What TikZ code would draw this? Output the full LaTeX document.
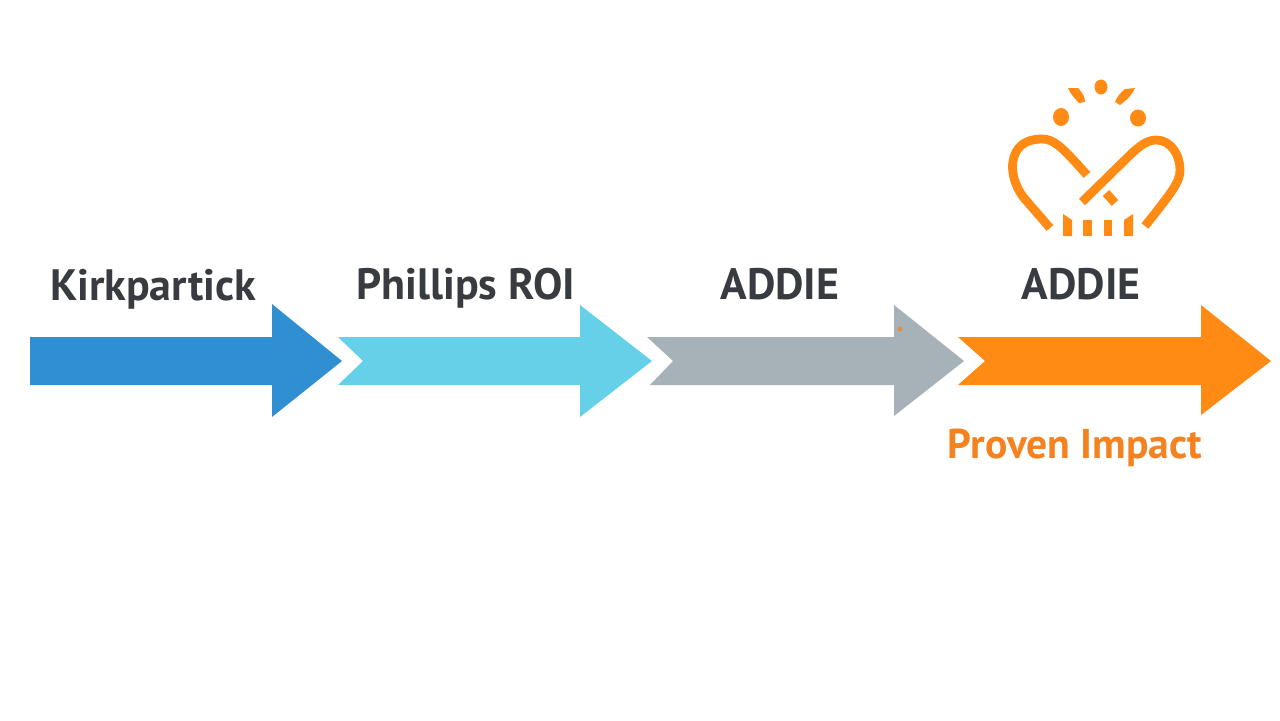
\documentclass[tikz,border=0pt]{standalone}
\usepackage{fontspec}
\setmainfont{PT Sans}
\usetikzlibrary{positioning, calc}
\definecolor{blueA}{HTML}{2F8FD0}
\definecolor{cyanA}{HTML}{66D0E8}
\definecolor{greyA}{HTML}{A6B2B8}
\definecolor{orangeA}{HTML}{FF8A14}
\definecolor{orangeB}{HTML}{F58220}
\definecolor{darkA}{HTML}{383C40}
\tikzset{
    steplabel/.style = {font=\fontsize{25}{25}\bfseries\selectfont, text=darkA, inner sep=0pt, anchor=base},
    iconline/.style = {orangeA, line width=5pt, line join=round},
    iconbar/.style = {fill=orangeA, draw=none}
}
\begin{document}
\begin{tikzpicture}[x=0.02cm,y=-0.02cm]
    \useasboundingbox (0,0) rectangle (1280,720);
    % arrows
    \fill[blueA] (30,337) -- (272,337) -- (272,304) -- (342,361) -- (272,417) -- (272,385) -- (30,385) -- cycle;
    \fill[cyanA] (338,337) -- (580,337) -- (580,305) -- (652,361) -- (580,417) -- (580,385) -- (338,385) -- (363,361) -- cycle;
    \fill[greyA] (647,337) -- (894,337) -- (894,305) -- (964,361) -- (894,416) -- (894,385) -- (650,385) -- (673,361) -- cycle;
    \fill[orangeA] (958,337) -- (1201,337) -- (1201,305) -- (1271,361) -- (1201,415) -- (1201,385) -- (958,385) -- (985,361) -- cycle;
    \fill[orangeB!70!greyA] (900,329) circle (2.5);
    % labels
    \node[steplabel] (kirk) at (153,300) {Kirkpartick};
    \node[steplabel] (roi) at (466,299) {Phillips ROI};
    \node[steplabel] (addieA) at (780,299) {ADDIE};
    \node[steplabel] (addieB) at (1081,299) {ADDIE};
    \node[steplabel, text=orangeB, font=\fontsize{23.7}{24}\bfseries\selectfont] (impact) at (1075,458) {Proven Impact};
    % icon
    \draw[iconline] (1050,228) -- (1024,198) .. controls (1013,184) and (1009,165) .. (1016,152) .. controls (1021,143) and (1030,139) .. (1042,139) .. controls (1054,139) and (1062,147) .. (1087,175);
    \draw[iconline] (1082,202) -- (1128,157) .. controls (1140,145) and (1148,140) .. (1156,140) .. controls (1171,140) and (1180,155) .. (1180,170) .. controls (1180,182) and (1172,192) .. (1145,226);
    \draw[iconline] (1106,193) -- (1115,203);
    \fill[iconbar] (1063,214) -- (1072,220) -- (1072,236) -- (1063,236) -- cycle;
    \fill[iconbar] (1083,220) rectangle (1092,236);
    \fill[iconbar] (1104,220) rectangle (1112,236);
    \fill[iconbar] (1124,220) -- (1133,214) -- (1133,236) -- (1124,236) -- cycle;
    \fill[orangeA] (1061,117) ellipse (8 and 9);
    \fill[orangeA] (1138,118) ellipse (8 and 8.5);
    \fill[orangeA] (1101,87) ellipse (6.5 and 7.5);
    \fill[orangeA] (1068,88) -- (1078,88) .. controls (1082,92) and (1085,97) .. (1085,102) -- (1079,103) .. controls (1074,98) and (1070,93) .. (1068,88) -- cycle;
    \fill[orangeA] (1135,88) -- (1125,89) .. controls (1120,93) and (1117,97) .. (1115,102) -- (1120,105) .. controls (1127,100) and (1132,95) .. (1135,88) -- cycle;
\end{tikzpicture}
\end{document}
